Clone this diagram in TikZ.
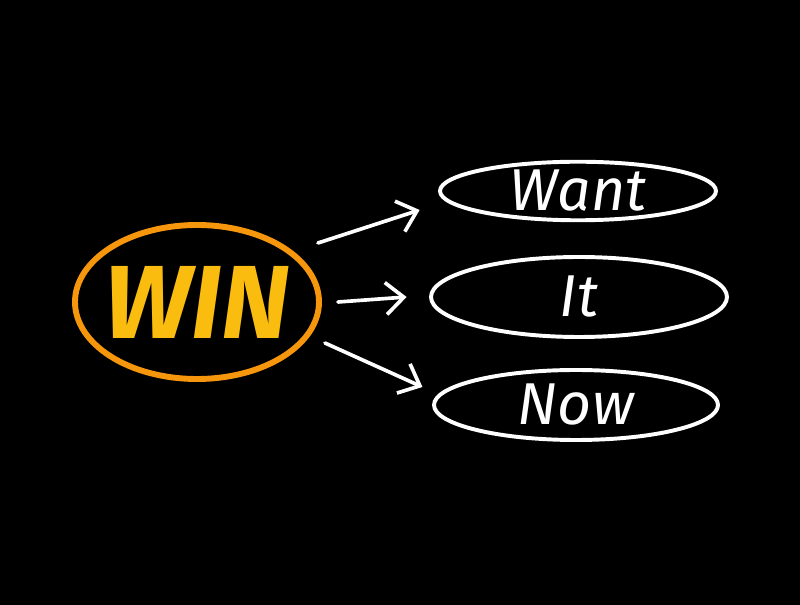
\documentclass[tikz,border=0pt]{standalone}
\usepackage{fontspec}
\setmainfont{Fira Sans}
\usepackage{xcolor}
\usepackage{tikz}
\usetikzlibrary{shapes.geometric, arrows.meta, positioning}

\definecolor{winorange}{RGB}{246,150,12}
\definecolor{winyellow}{RGB}{250,188,14}

\newcommand{\centred}[1]{\makebox[0pt]{#1}}

\begin{document}
\begin{tikzpicture}[
    main/.style={ellipse, draw=winorange, line width=4.2pt, minimum width=6.1cm, minimum height=3.85cm, inner sep=0pt, text=winyellow, font=\fontsize{74}{76}\selectfont\bfseries\itshape},
    goal/.style={ellipse, draw=white, line width=2.8pt, inner sep=0pt, text=white, font=\fontsize{42}{44}\selectfont\itshape},
    link/.style={-{Straight Barb[length=4.5mm, width=8mm, line width=2.6pt]}, line width=2.6pt, white, line cap=round}
]
    \fill[black] (0,0) rectangle (20,15.125);
    \useasboundingbox (0,0) rectangle (20,15.125);

    \node[main] (win) at (4.925, 7.575) {\centred{WIN}};

    \node[goal, minimum width=6.9cm, minimum height=1.45cm] (want) at (14.45, 10.35) {\centred{Want}};
    \node[goal, minimum width=7.4cm, minimum height=2.0cm]  (it)   at (14.475, 7.7) {\centred{It}};
    \node[goal, minimum width=7.1cm, minimum height=1.75cm] (now)  at (14.4, 5.0) {\centred{Now}};

    \draw[link] ([shift={(-0.1,1.475)}]win.east) -- ([shift={(-0.46,-0.475)}]want.west);
    \draw[link] ([shift={(0.4,0)}]win.east) -- ([shift={(-0.56,0)}]it.west);
    \draw[link] ([shift={(0.075,-1.025)}]win.east) -- ([shift={(-0.24,0.45)}]now.west);
\end{tikzpicture}
\end{document}
